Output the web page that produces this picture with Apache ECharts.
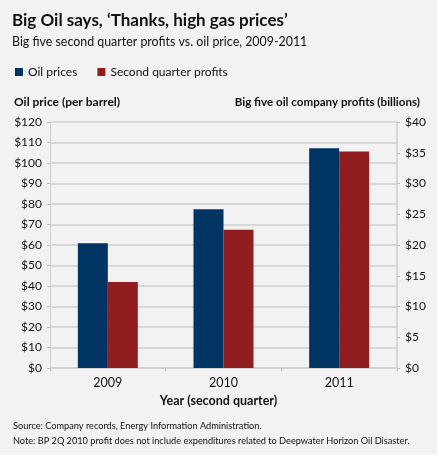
<!DOCTYPE html>
<html>
<head>
<meta charset="utf-8">
<script src="https://cdn.jsdelivr.net/npm/echarts@6/dist/echarts.min.js"></script>
<style>
html,body{margin:0;padding:0;background:#ffffff;}
#chart{width:437px;height:455px;background:#f2f2f2;}
</style>
</head>
<body>
<div id="chart"></div>
<script>
var categories = ['2009', '2010', '2011'];
var oilPrices = [60.8, 77.4, 107.2];
var profits = [14.0, 22.5, 35.2];
var leftTicks = {min: 0, max: 120, interval: 10};
var rightTicks = {min: 0, max: 40, interval: 5};

var FONT = 'Lato, "Open Sans", sans-serif';
var chart = echarts.init(document.getElementById('chart'), null, {renderer: 'canvas'});
var option = {
  backgroundColor: '#f2f2f2',
  animation: false,
  textStyle: {fontFamily: FONT},
  title: [
    {text: 'Big Oil says, \u2018Thanks, high gas prices\u2019', left: 7, top: 7,
     textStyle: {fontFamily: FONT, fontSize: 17, fontWeight: 'bold', color: '#111'}},
    {text: 'Big five second quarter profits vs. oil price, 2009-2011', left: 7, top: 31,
     textStyle: {fontFamily: FONT, fontSize: 12.4, fontWeight: 'normal', color: '#111'}},
    {text: 'Oil price (per barrel)', left: 9, top: 91,
     textStyle: {fontFamily: FONT, fontSize: 12, fontWeight: 'bold', color: '#111'}},
    {text: 'Big five oil company profits (billions)', right: 12, top: 91,
     textStyle: {fontFamily: FONT, fontSize: 11.6, fontWeight: 'bold', color: '#111'}},
    {text: 'Year (second quarter)', left: 'center', top: 389,
     textStyle: {fontFamily: FONT, fontSize: 12.5, fontWeight: 'bold', color: '#111'}},
    {text: 'Source: Company records, Energy Information Administration.\nNote: BP 2Q 2010 profit does not include expenditures related to Deepwater Horizon Oil Disaster.',
     left: 8, top: 414,
     textStyle: {fontFamily: FONT, fontSize: 9.2, fontWeight: 'normal', color: '#111', lineHeight: 15}}
  ],
  legend: {
    left: 10, top: 61, itemWidth: 8, itemHeight: 8, itemGap: 20,
    icon: 'rect',
    textStyle: {fontFamily: FONT, fontSize: 12, color: '#111'},
    data: ['Oil prices', 'Second quarter profits']
  },
  grid: {left: 50, right: 40, top: 122, bottom: 87, containLabel: false},
  xAxis: {
    type: 'category', data: categories,
    axisLine: {show: true, lineStyle: {color: '#cfcfcf', width: 1.5}},
    axisTick: {show: true, length: 3, lineStyle: {color: '#bdbdbd'}},
    axisLabel: {fontFamily: FONT, fontSize: 12.5, color: '#111', margin: 8}
  },
  yAxis: [
    {type: 'value', min: leftTicks.min, max: leftTicks.max, interval: leftTicks.interval,
     axisLine: {show: true, lineStyle: {color: '#cfcfcf', width: 1}},
     axisTick: {show: true, length: 3, lineStyle: {color: '#bdbdbd'}},
     splitLine: {show: true, lineStyle: {color: '#cfcfcf', width: 1.5}},
     axisLabel: {fontFamily: FONT, fontSize: 12, color: '#111', margin: 8,
                 formatter: function (v) { return '$' + v; }}},
    {type: 'value', min: rightTicks.min, max: rightTicks.max, interval: rightTicks.interval,
     axisLine: {show: true, lineStyle: {color: '#cfcfcf', width: 1.5}},
     axisTick: {show: true, length: 3, lineStyle: {color: '#bdbdbd'}},
     splitLine: {show: false},
     axisLabel: {fontFamily: FONT, fontSize: 12, color: '#111', margin: 8,
                 formatter: function (v) { return '$' + v; }}}
  ],
  series: [
    {name: 'Oil prices', type: 'bar', data: oilPrices, yAxisIndex: 0,
     barWidth: 30, barGap: '0%', itemStyle: {color: '#003462'}},
    {name: 'Second quarter profits', type: 'bar', data: profits, yAxisIndex: 1,
     barWidth: 30, barGap: '0%', itemStyle: {color: '#901d20'}}
  ]
};
chart.setOption(option);
</script>
</body>
</html>
